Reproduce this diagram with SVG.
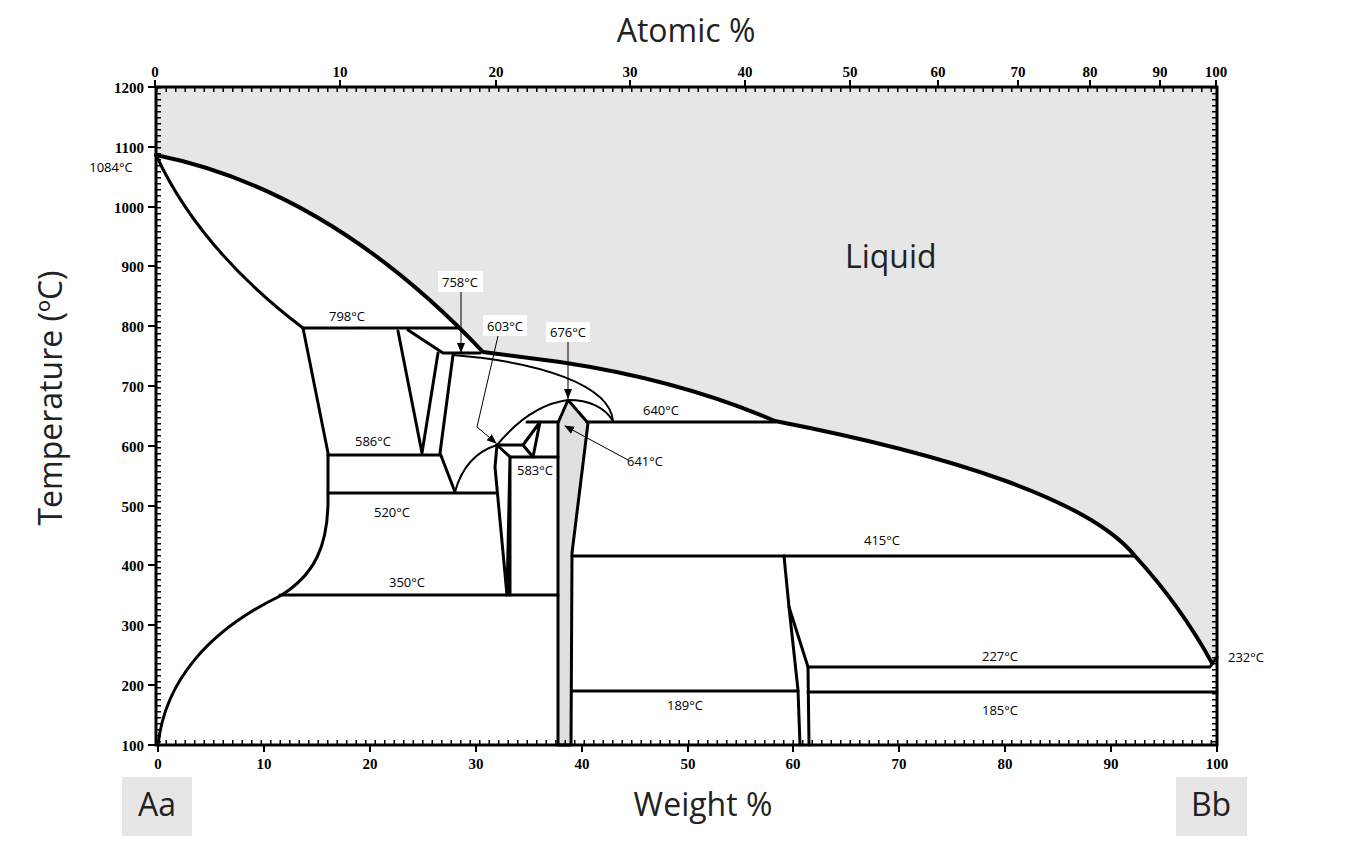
<svg xmlns="http://www.w3.org/2000/svg" width="1352" height="852" viewBox="0 0 1352 852">
<style>
.ph{fill:none;stroke:#000;stroke-width:3;stroke-linejoin:round;stroke-linecap:round}
.th{fill:none;stroke:#000;stroke-width:2}
.bold{stroke-width:4}
.lab{font-family:"Open Sans","Liberation Sans",sans-serif;font-size:13px;fill:#000}
.tick{font-family:"Liberation Serif",serif;font-weight:bold;font-size:15px;fill:#000}
.title{font-family:"Open Sans","Liberation Sans",sans-serif;font-size:32px;fill:#222}
.arr{stroke:#000;stroke-width:1;fill:none;marker-end:url(#ah)}
</style>
<defs>
<marker id="ah" markerWidth="10" markerHeight="10" refX="9" refY="5" orient="auto" markerUnits="userSpaceOnUse"><path d="M0,1 L10,5 L0,9 z" fill="#000"/></marker>
</defs>
<rect width="1352" height="852" fill="#fff"/>
<!-- liquid region -->
<path d="M156,87 L1217,87 L1217,657 L1212,663 Q1180,605 1135,556 C1090,500 950,455 775,421 Q680,380 560,362 L483,352 Q330,190 156,155 Z" fill="#e6e6e6"/>
<!-- gray strip -->
<path d="M558,745 L558,423 L568,400 L588,423 L572,553 L571,745 Z" fill="#e0e0e0" stroke="#000" stroke-width="3" stroke-linejoin="round"/>
<!-- frame -->
<g id="frame">
<rect x="156" y="87" width="1061" height="658" fill="none" stroke="#000" stroke-width="3"/>
<line x1="159" y1="87" x2="159" y2="745" stroke="#000" stroke-width="4" stroke-dasharray="1.5 4.5"/>
<line x1="1214" y1="87" x2="1214" y2="745" stroke="#000" stroke-width="4" stroke-dasharray="1.5 4.5"/>
<line x1="156" y1="90" x2="1217" y2="90" stroke="#000" stroke-width="4" stroke-dasharray="1.5 8"/>
<line x1="156" y1="742" x2="1217" y2="742" stroke="#000" stroke-width="4" stroke-dasharray="1.5 8"/>
<path d="M148,87H156M148,147H156M148,207H156M148,266H156M148,326H156M148,386H156M148,446H156M148,506H156M148,565H156M148,625H156M148,685H156M148,745H156" stroke="#000" stroke-width="2"/>
<path d="M158,745V752M264,745V752M370,745V752M476,745V752M582,745V752M688,745V752M793,745V752M899,745V752M1005,745V752M1111,745V752M1217,745V752" stroke="#000" stroke-width="2"/>
<path d="M155,87V80M340,87V80M496,87V80M630,87V80M745,87V80M850,87V80M938,87V80M1018,87V80M1090,87V80M1160,87V80M1216,87V80" stroke="#000" stroke-width="2"/>
</g>
<!-- phase boundaries -->
<g id="boundaries">
<path class="ph bold" d="M156,155 Q330,190 483,352 L560,362 Q680,380 775,421 C950,455 1090,500 1135,556 Q1180,605 1212,663"/>
<path class="ph" d="M156,155 Q200,250 303,328"/>
<path class="ph" d="M303,328 L328,453 L328,500 C328,545 315,575 280,596 C210,630 165,680 158,745"/>
<path class="ph" d="M303,328 L458,328"/>
<path class="ph" d="M398,331 L422,453 L438,353"/>
<path class="ph" d="M408,330 L443,353 L480,353"/>
<path class="ph" d="M453,355 L440,453 L455,492"/>
<path class="ph" d="M328,455 L440,455"/>
<path class="ph" d="M328,493 L495,493"/>
<path class="ph" d="M280,595 L558,595"/>
<path class="th" d="M453,355 C540,362 610,385 613,421"/>
<path class="th" d="M455,492 Q465,455 497,445 Q530,405 568,400 Q600,400 613,421"/>
<path class="ph" d="M587,422 L775,422"/>
<path class="ph" d="M527,422 L558,422"/>
<path class="ph" d="M497,445 L523,445 L540,422 L533,457 L523,445"/>
<path class="ph" d="M497,445 L510,457 L558,457"/>
<path class="ph" d="M497,445 L495,467 L507,595 L510,457 L510,595"/>
<path class="ph" d="M572,556 L1135,556"/>
<path class="ph" d="M784,556 L789,607 L798,690 L800,745"/>
<path class="ph" d="M789,607 L808,667 L809,745"/>
<path class="ph" d="M808,667 L1210,667 L1217,657"/>
<path class="ph" d="M572,691 L798,691"/>
<path class="ph" d="M808,692 L1217,692"/>
</g>
<!-- axis labels -->
<g id="axis-left" class="tick" text-anchor="end">
<text x="144" y="93">1200</text><text x="144" y="153">1100</text><text x="144" y="213">1000</text>
<text x="144" y="272">900</text><text x="144" y="332">800</text><text x="144" y="392">700</text>
<text x="144" y="452">600</text><text x="144" y="512">500</text><text x="144" y="571">400</text>
<text x="144" y="631">300</text><text x="144" y="691">200</text><text x="144" y="751">100</text>
</g>
<g id="axis-top" class="tick" text-anchor="middle">
<text x="155" y="77">0</text><text x="340" y="77">10</text><text x="496" y="77">20</text><text x="630" y="77">30</text>
<text x="745" y="77">40</text><text x="850" y="77">50</text><text x="938" y="77">60</text><text x="1018" y="77">70</text>
<text x="1090" y="77">80</text><text x="1160" y="77">90</text><text x="1216" y="77">100</text>
</g>
<g id="axis-bottom" class="tick" text-anchor="middle">
<text x="158" y="769">0</text><text x="264" y="769">10</text><text x="370" y="769">20</text><text x="476" y="769">30</text>
<text x="582" y="769">40</text><text x="688" y="769">50</text><text x="793" y="769">60</text><text x="899" y="769">70</text>
<text x="1005" y="769">80</text><text x="1111" y="769">90</text><text x="1217" y="769">100</text>
</g>
<text class="title" x="686" y="42" text-anchor="middle">Atomic %</text>
<text class="title" x="703" y="816" text-anchor="middle">Weight %</text>
<text class="title" x="0" y="0" font-size="36" text-anchor="middle" transform="translate(62,398) rotate(-90)">Temperature (ºC)</text>
<text class="title" x="845" y="268" font-size="32">Liquid</text>
<!-- temperature labels -->
<g id="labels" class="lab" text-anchor="middle">
<text x="111" y="172">1084°C</text>
<text x="347" y="321">798°C</text>
<rect x="438" y="271" width="45" height="21" fill="#fff"/><text x="460" y="287">758°C</text>
<rect x="483" y="315" width="44" height="21" fill="#fff"/><text x="505" y="331">603°C</text>
<rect x="546" y="322" width="44" height="20" fill="#fff"/><text x="568" y="337">676°C</text>
<text x="661" y="415">640°C</text>
<text x="645" y="466">641°C</text>
<text x="373" y="446">586°C</text>
<text x="535" y="475">583°C</text>
<text x="392" y="517">520°C</text>
<text x="407" y="587">350°C</text>
<text x="882" y="545">415°C</text>
<rect x="978" y="648" width="44" height="17" fill="#fff"/><text x="1000" y="661">227°C</text>
<text x="685" y="710">189°C</text>
<text x="1000" y="715">185°C</text>
<text x="1246" y="662">232°C</text>
</g>
<g id="arrows">
<path class="arr" d="M461,292 L461,352"/>
<path class="arr" d="M498,336 L477,427 L496,443"/>
<path class="arr" d="M568,342 L568,398"/>
<path class="arr" d="M628,460 L565,426"/>
</g>
<g id="Aa"><rect x="122" y="777" width="70" height="59" fill="#e6e6e6"/><text x="157" y="816" class="title" font-size="28" text-anchor="middle">Aa</text></g>
<g id="Bb"><rect x="1176" y="777" width="71" height="59" fill="#e6e6e6"/><text x="1211" y="816" class="title" font-size="28" text-anchor="middle">Bb</text></g>
</svg>
